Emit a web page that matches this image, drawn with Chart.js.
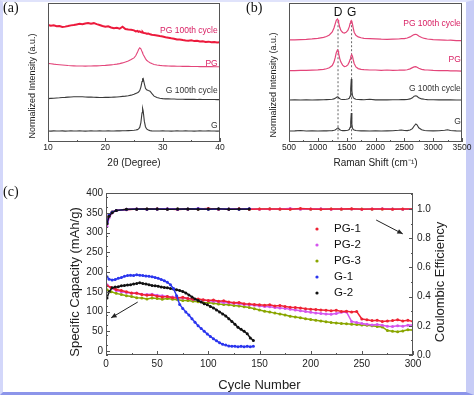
<!DOCTYPE html>
<html><head><meta charset="utf-8">
<script src="https://cdn.jsdelivr.net/npm/chart.js@4"></script>
<style>
html,body{margin:0;padding:0;background:#fff;}
#wrap{position:relative;width:474px;height:395px;overflow:hidden;background:#fff;}
canvas{position:absolute;left:0;top:0;width:474px;height:395px;}
.pl{position:absolute;font-family:"Liberation Serif","Times New Roman",serif;font-size:14px;line-height:16px;color:#111;}
#frame{position:absolute;left:0;top:0;width:474px;height:395px;box-sizing:border-box;border-left:3px solid #d3d7fa;border-top:2px solid #e0e3fb;border-right:8px solid #c7ccf6;border-bottom:3px solid #8c95ea;pointer-events:none;}
</style></head>
<body><div id="wrap">
<div id="frame"></div>
<canvas id="ca" width="474" height="395"></canvas>
<canvas id="cb" width="474" height="395"></canvas>
<canvas id="cc" width="474" height="395"></canvas>
<div class="pl" style="left:3px;top:0px;">(a)</div>
<div class="pl" style="left:246px;top:0px;">(b)</div>
<div class="pl" style="left:3px;top:184px;">(c)</div>
</div>
<script>
// ---------- (a) XRD ----------
const xrdX = [10,10.5,11,11.5,12,12.5,13,13.5,14,14.5,15,15.5,16,16.5,17,17.5,18,18.5,19,19.5,20,20.5,21,21.5,22,22.5,23,23.5,24,24.5,
  25,25.3,25.6,25.8,26,26.2,26.4,26.5,26.6,26.8,27,27.2,27.5,27.8,28.1,28.5,
  29,29.5,30,30.5,31,31.5,32,32.5,33,33.5,34,34.5,35,35.5,36,36.5,37,37.5,38,38.5,39,39.5,40];
const xrdG = [7.9,7.8,8.0,7.9,7.9,8.0,7.8,7.9,8.0,7.9, 7.9,8.0,7.9,7.8,7.9,8.0,7.9,7.9,8.0,7.9, 7.9,8.0,7.9,7.9,8.0,8.0,8.1,8.1,8.2,8.3,
  8.4,8.6,8.9,9.4,10.5,14,21,24.2,22.5,15,11,9.4,8.6,8.2,8.0,7.9,
  7.9,7.9,8.0,7.9,7.9,7.8,7.9,8.0,7.9,7.9,8.0,7.9,7.9,7.8,7.9,8.0,7.9,7.9,8.0,7.9,7.9,7.8,7.9];
const xrdG100 = [31.2,31.4,31.5,31.7,31.8,32.0,32.1,32.3,32.4,32.5, 32.6,32.6,32.5,32.4,32.3,32.3,32.2,32.1,32.0,32.0, 32.1,32.1,32.2,32.3,32.4,32.6,32.8,33.0,33.3,33.7,
  34.3,34.9,35.5,36.0,37.0,39.5,43.5,45.5,45.8,42,38.6,37.5,37.0,36.6,35.0,33.0,
  32.0,31.5,31.2,31.0,31.0,30.9,30.9,30.8,30.8,30.8,30.7,30.7,30.7,30.7,30.6,30.7,30.6,30.6,30.6,30.6,30.6,30.5,30.5];
const xrdPG = [56.6,56.3,56.0,55.8,55.6,55.4,55.2,55.0,54.9,54.8, 54.7,54.7,54.7,54.6,54.7,54.7,54.8,54.8,54.9,55.0, 55.1,55.3,55.5,55.7,56.0,56.4,56.9,57.5,58.3,59.3,
  60.5,62.0,64.5,66.5,67.8,67.0,65.0,64.0,63.0,61.5,60.0,58.8,57.8,57.0,56.4,55.8,
  55.4,55.1,54.9,54.8,54.7,54.6,54.6,54.5,54.5,54.4,54.4,54.4,54.3,54.3,54.3,54.2,54.2,54.2,54.2,54.2,54.1,54.1,54.1];
const xrdPG100 = [84.3,83.6,84.0,83.3,83.5,82.8,83.0,83.4,83.9,84.2, 84.6,85.0,84.7,85.3,85.6,85.1,85.5,84.8,84.2,83.5, 82.9,83.3,82.4,81.9,82.2,81.5,82.9,81.3,80.9,80.8,
  80.3,79.6,79.9,79.3,79.6,79.0,78.7,79.1,78.6,78.4,78.3,77.9,78.1,77.5,77.2,76.9,
  76.6,76.2,75.9,75.3,75.0,74.6,74.3,73.7,73.8,73.4,73.1,72.9,73.2,72.6,72.8,72.3,72.5,72.0,72.2,71.8,72.0,71.6,71.7];
const xrdTicks = [10,20,30,40];

// ---------- (b) Raman ----------
const ramanX = [500,600,700,800,900,1000,1100, 1150,1200,1250,1280,1300,1320,1340,1350,1360,1380,
  1400,1430,1460,1490,1520,1545,1560,1570,1580,1590, 1600,1615,1630,1660,1700,1750,1800,
  1900,2000,2100,2200,2300,2400,2450,2500,2550,2600, 2640,2670,2700,2720,2750,2800,2850,2900,
  3000,3100,3200,3250,3300,3400,3500];
const ramanG = [7.9,8.0,8.3,7.9,8.0,7.9,8.0, 8.0,8.1,8.2,8.4,8.7,9.3,10.0,10.2,9.8,8.8,
  8.4,8.2,8.2,8.3,8.5,9.0,10.5,14.5,20.9,13.0, 10.0,9.0,8.6,8.3,8.1,8.0,8.0,
  7.9,8.0,7.9,8.0,8.1,8.4,8.6,8.3,8.2,8.6, 9.6,11.5,13.0,12.4,10.2,8.8,8.3,8.1,
  8.0,8.1,8.4,8.8,8.3,8.0,7.9];
const ramanG100 = [30.2,30.3,30.2,30.3,30.2,30.3,30.4, 30.5,30.6,30.8,31.0,31.4,32.0,32.5,32.4,31.9,31.2,
  30.8,30.6,30.6,30.7,30.9,31.4,33.0,38.5,45.3,37.0, 33.5,32.0,31.3,30.8,30.6,30.5,30.4,
  30.8,30.3,30.3,30.3,30.4,30.4,30.5,30.5,30.6,31.0, 31.8,33.0,33.3,32.9,31.8,31.0,30.7,30.5,
  30.4,30.3,30.3,30.3,30.3,30.2,30.2];
const ramanPG = [51.3,51.4,51.6,51.5,51.7,51.9,52.3, 52.7,53.4,55.0,57.5,60.5,64.3,66.2,65.5,63.8,60.0,
  57.5,55.3,54.3,54.5,55.5,57.5,59.5,61.0,62.3,62.6, 61.8,59.0,56.5,54.0,52.8,52.2,52.0,
  51.8,51.8,51.6,51.8,51.6,51.7,51.8,51.7,52.0,52.6, 53.5,54.0,54.2,53.8,53.0,52.3,51.9,51.8,
  51.5,51.4,51.3,51.3,51.2,51.1,51.0];
const ramanPG100 = [73.4,73.5,73.7,73.9,74.2,74.6,75.3, 75.9,77.0,79.2,82.0,84.8,87.6,88.5,87.8,86.0,82.5,
  80.2,78.8,78.4,78.9,80.3,82.8,85.3,86.7,87.3,86.6, 85.0,81.8,79.0,76.8,75.6,75.0,74.6,
  74.4,74.2,74.0,73.9,74.0,74.1,74.3,74.4,74.8,75.6, 76.6,77.3,77.5,77.1,76.2,75.2,74.5,74.1,
  73.7,73.5,73.3,73.2,73.3,73.0,72.9];
const bandLineX = [1350, 1585];   // D and G band positions (dashed guides)
const bandLineY = [2, 87];
const ramanTicks = [500,1000,1500,2000,2500,3000,3500];

// ---------- (c) cycling ----------
const cyclesPG = [1,5,10,15,20,25,30,35,40,45,50,55,60,65,70,75,80,85,90,95,100,105,110,115,120,125,130,135,140,145,150,
  155,160,165,170,175,180,185,190,195,200,205,210,215,220,225,230,235,240,245,250,255,260,265,270,275,280,285,290,295,300];
const capPG1 = [165,161,156,153,150, 147,146,143,141,142, 139,137,138,135,134, 136,133,131,132,130, 128,129,126,127,124,
  122,123,120,119,118, 117,116,117,114,115, 113,111,110,109,107, 106,105,104,103,102, 103,100,101,99,100,
  81,79,77,78,75, 76,77,79,76,78, 75];
const capPG2 = [168,160,153,150,148, 146,147,144,143,144, 141,140,138,137,135, 134,133,131,130,129, 127,126,125,123,122,
  121,120,118,117,116, 114,113,112,110,109, 108,106,104,102,100, 98,96,95,94,93, 95,98,99,75,72,
  70,68,66,67,65, 63,62,64,63,65, 66];
const capPG3 = [155,150,146,143,140, 138,135,134,132,134, 133,131,133,131,130, 128,128,126,125,123, 122,121,119,118,117,
  115,114,112,110,107, 104,101,99,96,94, 91,88,86,84,82, 80,78,76,74,72, 71,70,69,68,67,
  66,65,64,62,61, 52,50,49,51,54, 53];
const cyclesG = [1,3,6,9,12,15,18,21,24,27,30,33,36,39,42,45,48,51,54,57,60,63,66,69,72,75,78,81,84,87,90,93,96,99,
  102,105,108,111,114,117,120,123,126,129,132,135,138,141,144];
const capG1 = [188,182,180,181,184,186,189,191,192,191, 193,192,191,190,189,188,186,184,181,178,
  174,168,158,140,118,108,99,91,82,73, 64,57,50,43,37,31,26,21,17,15, 13,12,12,11,12,11,12,11,12];
const capG2 = [134,150,160,162,163,165,166,167,168,170, 171,173,171,170,168,166,165,164,162,161,
  160,158,157,155,153,151,147,142,137,132, 128,124,120,117,113,109,104,99,94,89, 82,75,68,60,55,50,44,33,27];
const cyclesCEpg = [1,3,6,10,20,30,40,50,60,70,80,90,100,110,120,130,140,150,160,170,180,190,200,210,220,230,240,250,260,270,280,290,300];
const cePG1 = [0.93,0.96,0.98,0.99, 0.995,1.0,0.998,1.002,1.0, 0.997,1.001,1.0,1.003,0.999, 1.0,1.002,0.998,1.0,1.001,
  1.0,0.999,1.003,1.0,0.998, 1.001,1.0,1.002,0.999,1.0, 1.001,0.998,1.0,1.0];
const cePG2 = [0.88,0.94,0.975,0.99, 0.998,1.001,1.0,0.999,1.002, 1.0,0.998,1.003,1.0,1.001, 0.999,1.0,1.002,0.998,1.0,
  1.001,1.003,0.999,1.0,1.002, 0.998,1.0,1.001,0.999,1.0, 1.002,1.0,0.999,1.001];
const cePG3 = [0.90,0.95,0.98,0.99, 0.998,1.0,1.001,0.999,1.0, 1.002,0.999,1.0,1.001,0.998, 1.0,1.001,0.999,1.0,1.002,
  0.999,1.0,1.001,0.998,1.0, 1.0,0.999,1.001,1.0,0.998, 1.001,1.0,0.999,1.0];
const cyclesCEg = [1,3,6,10,20,30,40,50,60,70,80,90,100,110,120,130,140];
const ceG1 = [0.91,0.96,0.98,0.99, 0.997,1.0,0.999,1.001,1.0, 0.998,1.0,1.002,0.999,1.001, 1.0,0.999,1.002];
const ceG2 = [0.90,0.95,0.975,0.99, 0.998,0.999,1.001,1.0,0.998, 1.0,1.001,0.999,1.0,1.002, 0.998,1.0,1.0];
const cycleTicks = [0,50,100,150,200,250,300];
const capTicks = [0,50,100,150,200,250,300,350,400];
const ceTicks = [0,0.2,0.4,0.6,0.8,1.0];
const seriesNames = ['PG-1','PG-2','PG-3','G-1','G-2'];
const seriesColors = ['#ee2233','#d455ee','#8aa600','#2a35ee','#111111'];

// ---------- helpers ----------
const FAM = '"Liberation Sans", Arial, sans-serif';
const pts = (xs, ys) => xs.map((x, i) => ({x, y: ys[i]}));
const setTicks = vals => s => { s.ticks = vals.map(v => ({value: v})); };

const decor = {
  id: 'decor',
  afterDatasetsDraw(chart, args, o) {
    const ctx = chart.ctx, a = chart.chartArea;
    ctx.save();
    ctx.strokeStyle = '#555'; ctx.lineWidth = 1;
    ctx.strokeRect(Math.round(a.left) + 0.5, Math.round(a.top) + 0.5, Math.round(a.right - a.left) - 1, Math.round(a.bottom - a.top) - 1);
    (o.ticks || []).forEach(t => {
      const s = chart.scales[t.id];
      const draw = (v, L) => {
        const p = Math.round(s.getPixelForValue(v)) + 0.5;
        ctx.beginPath();
        if (t.side === 'bottom') { ctx.moveTo(p, a.bottom); ctx.lineTo(p, a.bottom - L); }
        else if (t.side === 'left') { ctx.moveTo(a.left, p); ctx.lineTo(a.left + L, p); }
        else { ctx.moveTo(a.right, p); ctx.lineTo(a.right - L, p); }
        ctx.stroke();
      };
      s.ticks.forEach(tk => draw(tk.value, 4));
      if (t.minor) for (let v = s.min; v <= s.max + 1e-9; v += t.minor) draw(v, 2);
    });
    (o.notes || []).forEach(n => {
      const x = chart.scales.x.getPixelForValue(n.x);
      const y = chart.scales[n.yid || 'y'].getPixelForValue(n.y);
      ctx.font = (n.size || 8.5) + 'px ' + FAM;
      ctx.fillStyle = n.color || '#222';
      ctx.textAlign = n.align || 'right';
      ctx.textBaseline = 'middle';
      ctx.fillText(n.text, x, y);
    });
    (o.arrows || []).forEach(r => {
      const sy = chart.scales[r.yid || 'y'];
      const x1 = chart.scales.x.getPixelForValue(r.x1), y1 = sy.getPixelForValue(r.y1);
      const x2 = chart.scales.x.getPixelForValue(r.x2), y2 = sy.getPixelForValue(r.y2);
      ctx.strokeStyle = '#222'; ctx.fillStyle = '#222'; ctx.lineWidth = 1;
      ctx.beginPath(); ctx.moveTo(x1, y1); ctx.lineTo(x2, y2); ctx.stroke();
      const ang = Math.atan2(y2 - y1, x2 - x1), L = 6, W = 0.42;
      ctx.beginPath(); ctx.moveTo(x2, y2);
      ctx.lineTo(x2 - L * Math.cos(ang - W), y2 - L * Math.sin(ang - W));
      ctx.lineTo(x2 - L * Math.cos(ang + W), y2 - L * Math.sin(ang + W));
      ctx.closePath(); ctx.fill();
    });
    (o.ytitles || []).forEach(t => {
      ctx.save();
      ctx.translate(t.x, t.y); ctx.rotate(-Math.PI / 2);
      ctx.font = t.size + 'px ' + FAM; ctx.fillStyle = '#222';
      ctx.textAlign = 'center'; ctx.textBaseline = 'middle';
      ctx.fillText(t.text, 0, 0);
      ctx.restore();
    });
    if (o.legend) {
      const L = o.legend;
      L.names.forEach((nm, i) => {
        const y = a.top + L.top + i * L.dy;
        ctx.fillStyle = L.colors[i];
        ctx.beginPath(); ctx.arc(a.left + L.dot, y, 1.6, 0, Math.PI * 2); ctx.fill();
        ctx.fillStyle = '#111'; ctx.font = L.size + 'px ' + FAM;
        ctx.textAlign = 'left'; ctx.textBaseline = 'middle';
        ctx.fillText(nm, a.left + L.text, y);
      });
    }
    ctx.restore();
  }
};

function xScale(min, max, vals, h, tfont, title, tpadBottom, tickPad) {
  return {
    type: 'linear', position: 'bottom', min, max,
    afterBuildTicks: setTicks(vals),
    afterFit: s => { s.height = h; },
    grid: {display: false, drawTicks: false}, border: {display: false},
    ticks: {padding: tickPad, font: {size: tfont, family: FAM}, color: '#222', maxRotation: 0, autoSkip: false,
      callback: v => String(v)},
    title: {display: true, text: title, font: {size: title === 'Cycle Number' ? 13 : 10, family: FAM}, color: '#222', padding: {top: 0, bottom: tpadBottom}}
  };
}
function hiddenY(w) {
  return {type: 'linear', min: 0, max: 100, afterFit: s => { s.width = w; },
    ticks: {display: false}, grid: {display: false, drawTicks: false}, border: {display: false}};
}
function lineDs(xs, ys, color, w) {
  return {data: pts(xs, ys), borderColor: color, borderWidth: w, showLine: true, pointRadius: 0, fill: false};
}
function base(pad, scales, decorOpts) {
  return {responsive: false, animation: false, maintainAspectRatio: false,
    layout: {padding: pad},
    plugins: {legend: {display: false}, tooltip: {enabled: false}, decor: decorOpts},
    scales};
}

const PINK = '#e3457a', RED = '#ec1a3c', GREY = '#3a3a3a', LBL = '#d81e62';

// (a)
new Chart(document.getElementById('ca'), {
  type: 'scatter',
  data: {datasets: [
    lineDs(xrdX, xrdG, GREY, 1.1),
    lineDs(xrdX, xrdG100, GREY, 1.1),
    lineDs(xrdX, xrdPG, PINK, 1.1),
    lineDs(xrdX, xrdPG100, RED, 2)
  ]},
  options: base({left: 20, top: 3, right: 254, bottom: 223}, {
    x: xScale(10, 40, xrdTicks, 30, 8.5, '2θ (Degree)', 3, 1),
    y: hiddenY(28)
  }, {
    ticks: [{id: 'x', side: 'bottom', minor: 5}],
    notes: [
      {text: 'PG 100th cycle', x: 39.6, y: 79.9, color: LBL},
      {text: 'PG', x: 39.6, y: 56.1, color: LBL},
      {text: 'G 100th cycle', x: 39.6, y: 36.7, color: '#333'},
      {text: 'G', x: 39.6, y: 11.5, color: '#333'}
    ],
    ytitles: [{text: 'Normalized Intensity (a.u.)', x: 33, y: 86, size: 9}]
  }),
  plugins: [decor]
});

// (b)
new Chart(document.getElementById('cb'), {
  type: 'scatter',
  data: {datasets: [
    lineDs(ramanX, ramanG, GREY, 1.1),
    lineDs(ramanX, ramanG100, GREY, 1.1),
    lineDs(ramanX, ramanPG, PINK, 1.2),
    lineDs(ramanX, ramanPG100, PINK, 1.2),
    {data: pts([bandLineX[0], bandLineX[0]], bandLineY), borderColor: '#666', borderWidth: 1, borderDash: [2, 2], showLine: true, pointRadius: 0},
    {data: pts([bandLineX[1], bandLineX[1]], bandLineY), borderColor: '#666', borderWidth: 1, borderDash: [2, 2], showLine: true, pointRadius: 0}
  ]},
  options: base({left: 265, top: 3, right: 12, bottom: 223}, {
    x: xScale(500, 3500, ramanTicks, 30, 8.5, 'Raman Shift (cm⁻¹)', 3, 1),
    y: hiddenY(24)
  }, {
    ticks: [{id: 'x', side: 'bottom', minor: 250}],
    notes: [
      {text: 'PG 100th cycle', x: 3480, y: 84.9, color: LBL},
      {text: 'PG', x: 3480, y: 59, color: LBL},
      {text: 'G 100th cycle', x: 3480, y: 38.1, color: '#333'},
      {text: 'G', x: 3480, y: 14.4, color: '#333'},
      {text: 'D', x: bandLineX[0], y: 92.8, color: '#111', align: 'center', size: 12},
      {text: 'G', x: bandLineX[1], y: 92.8, color: '#111', align: 'center', size: 12}
    ],
    ytitles: [{text: 'Normalized Intensity (a.u.)', x: 274, y: 85, size: 9}]
  }),
  plugins: [decor]
});

// (c)
function capDs(xs, ys, color, axis, w) {
  return {data: pts(xs, ys), yAxisID: axis, borderColor: color, backgroundColor: color, borderWidth: w || 1.5,
    showLine: true, pointRadius: 1.5, pointBorderWidth: 0};
}
new Chart(document.getElementById('cc'), {
  type: 'scatter',
  data: {datasets: [
    capDs(cyclesCEg, ceG2, seriesColors[4], 'y2', 1.2),
    capDs(cyclesCEg, ceG1, seriesColors[3], 'y2', 1.5),
    capDs(cyclesCEpg, cePG1, seriesColors[0], 'y2', 1.5),
    capDs(cyclesCEpg, cePG2, seriesColors[1], 'y2', 1.5),
    capDs(cyclesCEpg, cePG3, seriesColors[2], 'y2', 1.5),
    capDs(cyclesG, capG1, seriesColors[3], 'y'),
    capDs(cyclesG, capG2, seriesColors[4], 'y'),
    capDs(cyclesPG, capPG1, seriesColors[0], 'y'),
    capDs(cyclesPG, capPG2, seriesColors[1], 'y'),
    capDs(cyclesPG, capPG3, seriesColors[2], 'y')
  ]},
  options: base({left: 60, top: 193, right: 20, bottom: 2}, {
    x: xScale(0, 300, cycleTicks, 38, 10, 'Cycle Number', 0.2, 3),
    y: {type: 'linear', position: 'left', min: -10, max: 400,
      afterBuildTicks: setTicks(capTicks), afterFit: s => { s.width = 46; },
      grid: {display: false, drawTicks: false}, border: {display: false},
      ticks: {padding: 3, font: {size: 10, family: FAM}, color: '#222'}},
    y2: {type: 'linear', position: 'right', min: 0, max: 1.11,
      afterBuildTicks: setTicks(ceTicks), afterFit: s => { s.width = 41; },
      grid: {display: false, drawTicks: false}, border: {display: false},
      ticks: {padding: 4, font: {size: 10, family: FAM}, color: '#222', callback: v => v.toFixed(1)}}
  }, {
    ticks: [{id: 'x', side: 'bottom', minor: 25}, {id: 'y', side: 'left', minor: 25}, {id: 'y2', side: 'right', minor: 0.1}],
    arrows: [
      {x1: 31, y1: 124, x2: 5, y2: 84, yid: 'y'},
      {x1: 264, y1: 0.925, x2: 290, y2: 0.83, yid: 'y2'}
    ],
    ytitles: [
      {text: 'Specific Capacity (mAh/g)', x: 75, y: 282, size: 13},
      {text: 'Coulombic Efficiency', x: 440, y: 282, size: 13}
    ],
    legend: {names: seriesNames, colors: seriesColors, dot: 211, text: 228, top: 36, dy: 16, size: 11.5}
  }),
  plugins: [decor]
});
</script>
</body></html>
